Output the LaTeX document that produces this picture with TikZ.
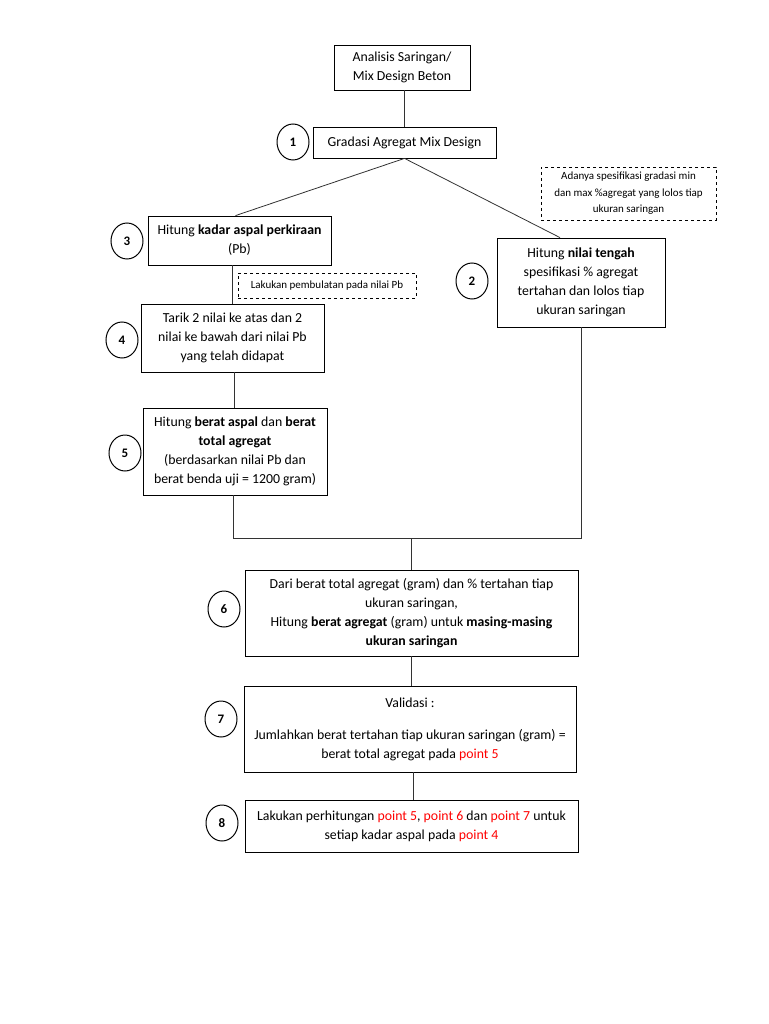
\documentclass[tikz,border=0pt]{standalone}
\usepackage{fontspec}
\setmainfont{Carlito}
\usepackage{xcolor}
\usetikzlibrary{shapes.geometric,calc,positioning}
\tikzset{>=latex}
\tikzset{box/.style={draw, line width=0.8pt, align=center, inner sep=2pt, font=\fontsize{13.8}{19}\selectfont},
num/.style={draw, ellipse, line width=1pt, minimum width=32pt, minimum height=36pt, inner sep=0pt, font=\fontsize{13}{15}\selectfont\bfseries},
note/.style={draw, dashed, line width=0.7pt, align=center, inner sep=2pt, font=\fontsize{11}{16.5}\selectfont},
link/.style={line width=0.8pt, draw=black!80}}
\newcommand{\pt}[1]{\textcolor{red}{#1}}

\begin{document}
\begin{tikzpicture}[x=1pt,y=-1pt]
\useasboundingbox[fill=white] (0,0) rectangle (768,1024);
\node[box, minimum width=136pt, minimum height=45pt] (b0) at (402,67.5) {Analisis Saringan/\\Mix Design Beton};
\node[box, minimum width=183pt, minimum height=31pt] (b1) at (404.5,142.5) {Gradasi Agregat Mix Design};
\node[note, minimum width=175pt, minimum height=53pt] (n1) at (628.5,193.5) {Adanya spesifikasi gradasi min\\dan max \%agregat yang lolos tiap\\ukuran saringan};
\node[box, minimum width=183pt, minimum height=49pt] (b3) at (239.5,240.5) {Hitung \textbf{kadar aspal perkiraan}\\(Pb)};
\node[box, minimum width=168pt, minimum height=89pt] (b2) at (581,282.5) {Hitung \textbf{nilai tengah}\\spesifikasi \% agregat\\tertahan dan lolos tiap\\ukuran saringan};
\node[note, minimum width=178pt, minimum height=25pt] (n2) at (327,285.5) {Lakukan pembulatan pada nilai Pb};
\node[box, minimum width=183pt, minimum height=68pt] (b4) at (232.5,338) {Tarik 2 nilai ke atas dan 2\\nilai ke bawah dari nilai Pb\\yang telah didapat};
\node[box, minimum width=184pt, minimum height=87pt] (b5) at (235,451.5) {Hitung \textbf{berat aspal} dan \textbf{berat}\\\textbf{total agregat}\\(berdasarkan nilai Pb dan\\berat benda uji = 1200 gram)};
\node[box, minimum width=333pt, minimum height=86pt] (b6) at (411.5,613) {Dari berat total agregat (gram) dan \% tertahan tiap\\ukuran saringan,\\Hitung \textbf{berat agregat} (gram) untuk \textbf{masing-masing}\\\textbf{ukuran saringan}};
\node[box, minimum width=332pt, minimum height=86pt] (b7) at (410,729) {Validasi :\\[13pt]Jumlahkan berat tertahan tiap ukuran saringan (gram) =\\berat total agregat pada \pt{point 5}};
\node[box, minimum width=333pt, minimum height=52pt] (b8) at (411.5,826) {Lakukan perhitungan \pt{point 5}, \pt{point 6} dan \pt{point 7} untuk\\setiap kadar aspal pada \pt{point 4}};
\node[num] (c1) at (293,142) {1};
\node[num] (c2) at (472,281) {2};
\node[num] (c3) at (127,241) {3};
\node[num] (c4) at (122,340) {4};
\node[num] (c5) at (125,453) {5};
\node[num] (c6) at (224,609) {6};
\node[num] (c7) at (221,719) {7};
\node[num] (c8) at (222,823) {8};
\coordinate (j1) at ($(b5.south)+(-2,43)$);
\coordinate (j2) at (j1 -| b2.south);
\coordinate (j3) at (j1 -| b6.north);
\draw[link] (b1.north |- b0.south) -- (b1.north);
\draw[link] (b1.south) -- ([xshift=-4pt]b3.north);
\draw[link] (b1.south) -- ([xshift=-21pt]b2.north);
\draw[link] (b4.north |- b3.south) -- (b4.north);
\draw[link] ([xshift=1.5pt]b4.south) -- ([xshift=-1pt]b5.north);
\draw[link] ([xshift=-2pt]b5.south) -- (j1) -- (j2) -- (b2.south);
\draw[link] (j3) -- (b6.north);
\draw[link] (b6.south) -- (b6.south |- b7.north);
\draw[link] ([xshift=3pt]b7.south) -- ([xshift=1.5pt]b8.north);
\end{tikzpicture}
\end{document}
